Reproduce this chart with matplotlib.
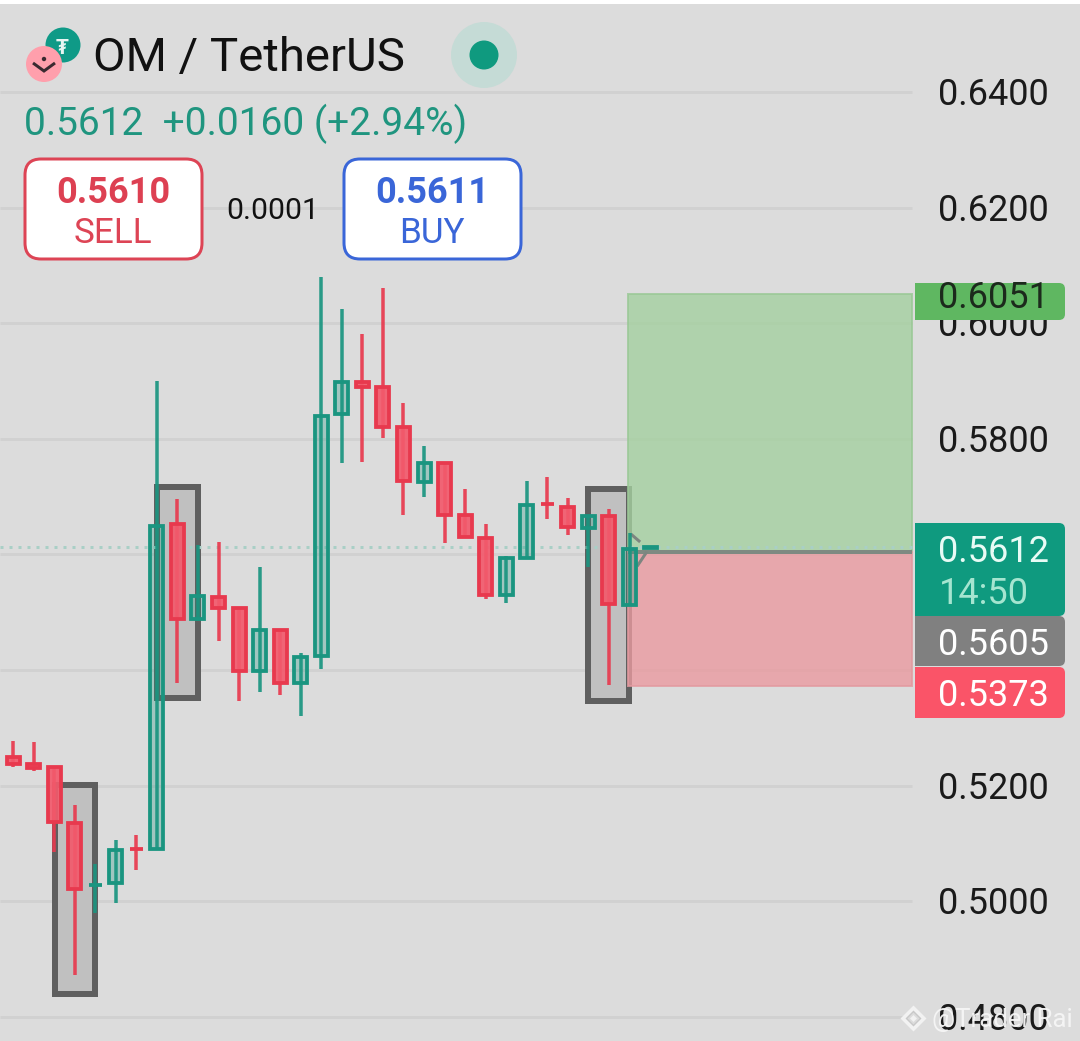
import matplotlib
matplotlib.use("Agg")
import matplotlib.pyplot as plt
from matplotlib.patches import Rectangle, FancyBboxPatch, Circle, PathPatch
from matplotlib.path import Path
from matplotlib.transforms import Affine2D

W, H = 1080, 1041

# свечи: цены
opens = [0.5249, 0.5237, 0.5232, 0.5135, 0.5028, 0.5032, 0.5091, 0.5090, 0.5653, 0.5488, 0.5526,
         0.5507, 0.5398, 0.5469, 0.5378, 0.5424, 0.5843, 0.5898, 0.5890, 0.5820, 0.5725, 0.5758,
         0.5668, 0.5628, 0.5530, 0.5594, 0.5688, 0.5682, 0.5646, 0.5666, 0.5512, 0.5611]
highs = [0.5277, 0.5275, 0.5234, 0.5166, 0.5064, 0.5106, 0.5115, 0.5900, 0.5696, 0.5616, 0.5622,
         0.5509, 0.5578, 0.5469, 0.5429, 0.6080, 0.6025, 0.5981, 0.6061, 0.5862, 0.5788, 0.5758,
         0.5713, 0.5653, 0.5597, 0.5727, 0.5734, 0.5698, 0.5666, 0.5679, 0.5637, 0.5611]
lows = [0.5232, 0.5225, 0.5085, 0.4872, 0.4980, 0.4997, 0.5054, 0.5090, 0.5378, 0.5485, 0.5450,
        0.5346, 0.5362, 0.5357, 0.5320, 0.5402, 0.5758, 0.5760, 0.5801, 0.5668, 0.5699, 0.5620,
        0.5630, 0.5523, 0.5516, 0.5594, 0.5661, 0.5634, 0.5578, 0.5374, 0.5512, 0.5611]
closes = [0.5237, 0.5230, 0.5137, 0.5021, 0.5028, 0.5089, 0.5090, 0.5649, 0.5488, 0.5528, 0.5507,
          0.5398, 0.5469, 0.5378, 0.5423, 0.5839, 0.5898, 0.5890, 0.5820, 0.5727, 0.5758, 0.5668,
          0.5630, 0.5530, 0.5594, 0.5686, 0.5687, 0.5647, 0.5666, 0.5514, 0.5609, 0.5612]

grid_prices = [0.64, 0.62, 0.60, 0.58, 0.56, 0.54, 0.52, 0.50, 0.48]
tick_prices = [0.64, 0.62, 0.60, 0.58, 0.52, 0.50, 0.48]
tick_labels = ["0.6400", "0.6200", "0.6000", "0.5800", "0.5200", "0.5000", "0.4800"]

last_price = 0.5612
entry_price = 0.5605
target_price = 0.6051
stop_price = 0.5373

BG = "#dcdcdc"
GREEN = "#1a9580"
RED = "#e8394e"
FONT = "Roboto"
STEP = 20.55

plt.rcParams["font.family"] = FONT

fig = plt.figure(figsize=(W / 100, H / 100), dpi=100, facecolor=BG)
ax = fig.add_axes([0, 0, 1, 1])
ax.set_facecolor(BG)
ax.axis("off")

# шкалы подобраны так: 0.64 -> y=92, шаг 0.02 = 115.6 px
ax.set_xlim(-13 / STEP, (W - 13) / STEP)
ax.set_ylim(0.64 - (H - 92) / 5780, 0.64 + 92 / 5780)

# пиксельные координаты, как на скриншоте (y вниз)
pix = Affine2D().scale(1, -1).translate(0, H)


def ix(px):
    return (px - 13) / STEP


def lw(px):
    return px * 0.72


def label(x, y, s, size, color, weight="normal", ha="left", z=10, alpha=None):
    return ax.text(x, y, s, transform=pix, fontsize=size, color=color, fontweight=weight,
                   ha=ha, va="center_baseline", zorder=z, alpha=alpha, family=FONT)


def tag(y0, y1, color, z=8):
    ax.add_patch(FancyBboxPatch((915, y0), 150 - 6, y1 - y0, transform=pix, fc=color, ec="none",
                                boxstyle="square,pad=0", zorder=z))
    ax.add_patch(FancyBboxPatch((1040 + 6, y0 + 6), 13, y1 - y0 - 12, transform=pix, fc=color, ec="none",
                                boxstyle="round,pad=6,rounding_size=6", zorder=z))


# сетка
ax.hlines(grid_prices, ix(0), ix(912), color="#d1d1d1", lw=lw(3), zorder=1)

# серые рамки
for x0, x1, y0, y1 in [(55, 95, 785, 994), (157, 197.7, 487, 698), (588, 629, 489, 701)]:
    ax.add_patch(Rectangle((x0, y0), x1 - x0, y1 - y0, transform=pix, fc="#c0c0c0", ec="#5f5f5f",
                           lw=lw(6), zorder=2))

# зоны take profit / stop loss
ax.add_patch(Rectangle((ix(628), entry_price), ix(912) - ix(628), target_price - entry_price,
                       fc="#a4d0a0", ec="#9ac896", lw=lw(2), alpha=0.8, zorder=2.5))
ax.add_patch(Rectangle((ix(628), stop_price), ix(912) - ix(628), entry_price - stop_price,
                       fc="#ea9aa0", ec="#e39aa0", lw=lw(2), alpha=0.8, zorder=2.5))
ax.hlines(entry_price, ix(628), ix(912), color="#7f8a82", lw=lw(4), zorder=2.6)
ax.hlines(last_price, ix(0), ix(912), color="#a9cfc6", lw=lw(3),
          linestyles=(0, (1.0, 2.0)), zorder=2.7)

# свечи
body_w = 13 / STEP
for i in range(len(opens)):
    up = closes[i] >= opens[i]
    col = GREEN if up else RED
    z = 3 + i * 0.01
    ax.vlines(i, lows[i], highs[i], color=col, lw=lw(3.5), alpha=0.92, zorder=z)
    bottom = min(opens[i], closes[i])
    height = abs(closes[i] - opens[i])
    if up:
        face = (26 / 255, 149 / 255, 128 / 255, 0.3)
    else:
        face = (242 / 255, 90 / 255, 108 / 255, 0.92)
    ax.add_patch(Rectangle((i - body_w / 2, bottom), body_w, height, fc=face, ec=col,
                           lw=lw(3.8), zorder=z))

# серые штрихи у последней свечи
ax.plot([632, 639], [535, 541], transform=pix, color="#7d8580", lw=lw(3), zorder=2.9)
ax.plot([638, 646], [565, 553], transform=pix, color="#7d8580", lw=lw(3), zorder=2.9)

# подписи шкалы
for p, s in zip(tick_prices, tick_labels):
    ax.text(938.5, 91 + (0.64 - p) * 5780, s, transform=pix, fontsize=26, color="#1a1a1a",
            va="center_baseline", zorder=6)

# метки справа
tag(283, 320, "#5fb761")
label(938.5, 294, "0.6051", 26, "#1c2a1c", z=10)
tag(523, 616, "#0f9a7f")
label(938.5, 548, "0.5612", 26, "#e8fbf5")
label(938.5, 590, "14:50", 26, "#a5e5d0")
tag(616, 666, "#808080")
label(938.5, 641, "0.5605", 26, "white")
tag(667, 718, "#fa5468")
label(938.5, 692, "0.5373", 26, "white")

# шапка
ax.add_patch(Circle((63, 45), 17.5, transform=pix, fc="#0f9a87", ec="none", zorder=11))
label(62, 46, "₮", 15, "#e8f5f2", weight="bold", ha="center", z=12)
ax.add_patch(Circle((44, 64), 18, transform=pix, fc="#ff9fac", ec="none", zorder=13))
ax.add_patch(PathPatch(Path([(33, 63), (44, 71), (55, 63)]), transform=pix, fc="none", ec="#3a2a30",
                       lw=lw(3), zorder=14))
ax.add_patch(Circle((44, 59), 2.2, transform=pix, fc="#3a2a30", ec="none", zorder=14))
label(93, 54, "OM / TetherUS", 34.1, "#111111", z=11)

ax.add_patch(Circle((484, 55), 33, transform=pix, fc="#c5dbd6", ec="none", zorder=11))
ax.add_patch(Circle((484, 55), 14.5, transform=pix, fc="#0f9a7f", ec="none", zorder=12))

label(24.5, 119, "0.5612  +0.0160 (+2.94%)", 28, "#1f957f", z=11)

for x0, col in [(25, "#dd4455"), (344, "#3a66d8")]:
    ax.add_patch(FancyBboxPatch((x0 + 16, 159 + 16), 177 - 32, 100 - 32, transform=pix, fc="white", ec=col,
                                lw=lw(3), boxstyle="round,pad=16,rounding_size=16", zorder=11))
label(113, 189, "0.5610", 26, "#dd4052", weight="bold", ha="center", z=12)
label(113, 230, "SELL", 25.3, "#dd4455", ha="center", z=12)
label(432, 189, "0.5611", 26, "#3a66d8", weight="bold", ha="center", z=12)
label(432, 230, "BUY", 25.3, "#3a66d8", ha="center", z=12)
label(272.5, 208, "0.0001", 21.7, "#111111", ha="center", z=11)

# белая полоска сверху
ax.add_patch(Rectangle((0, 0), W, 4, transform=pix, fc="white", ec="none", zorder=15))

# водяной знак
for ms, face in [(13, "#f2f2f2"), (8, "#c8c8c8"), (6.5, BG), (3.5, "#f2f2f2")]:
    ax.plot([913], [1018], marker="D", ms=ms, mfc=face, mec="none", transform=pix, zorder=16, ls="none")
label(932, 1018, "@Trader Rai", 18.5, "#f6f6f6", z=18, alpha=0.95)

fig.savefig("out.png", dpi=100, facecolor=BG)
